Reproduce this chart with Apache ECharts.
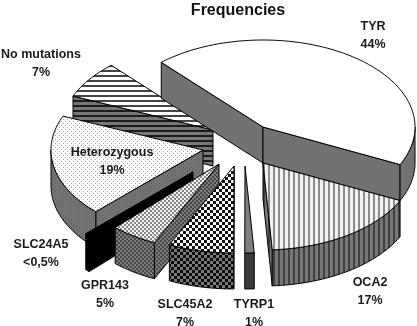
<!DOCTYPE html>
<html>
<head>
<meta charset="utf-8">
<style>html,body{margin:0;padding:0;background:#fff}#c{width:417px;height:326px}</style>
<script src="https://cdn.jsdelivr.net/npm/echarts@6/dist/echarts.min.js"></script>
</head>
<body>
<div id="c"></div>
<script>
const categories = ['TYR','OCA2','TYRP1','SLC45A2','GPR143','SLC24A5','Heterozygous','No mutations'];
const values = [44,17,1,7,5,0.5,19,7];
const percentLabels = ['44%','17%','1%','7%','5%','<0,5%','19%','7%'];

// layout and style, separate from the data
const START_ANGLE = 132, RX = 152, RY = 87, DEPTH = 36;
const apexX = [263,263,245,234,219,193,203,213];
const apexY = [127,163,166,166,164,172,150,130];
const labelX = [373,370,254,185,105,41,112,41];
const labelY = [36,292,314,314,295,254,162,64];
const drawOrder = [7,0,6,5,4,3,1,2];

function tile(w,h,paint){
  const c=document.createElement('canvas');c.width=w;c.height=h;
  const g=c.getContext('2d');paint(g);
  return {image:c,repeat:'repeat'};
}
function rects(bg,fg,w,h,list){
  return tile(w,h,g=>{g.fillStyle=bg;g.fillRect(0,0,w,h);g.fillStyle=fg;list.forEach(r=>g.fillRect(r[0],r[1],r[2],r[3]));});
}
const vstripe=(a,b)=>rects(a,b,5,5,[[3,0,2,5]]);
const hstripe=(a,b)=>rects(a,b,5,5,[[0,0,5,2]]);
const check=(a,b)=>rects(a,b,6,6,[[0,0,3,3],[3,3,3,3]]);
const fine=(a,b)=>rects(a,b,4,4,[[0,0,2,2],[2,2,2,2]]);
const dots=(a,b)=>rects(a,b,4,4,[[1,1,1,1],[3,3,1,1]]);
const topFill=['#ffffff',vstripe('#f2f2f2','#8c8c8c'),'#7f7f7f',check('#ffffff','#111111'),fine('#f2f2f2','#858585'),'#000000',dots('#ffffff','#a0a0a0'),hstripe('#ffffff','#444444')];
const wallFill=['#727272',vstripe('#777777','#404040'),'#3c3c3c',check('#7a7a7a','#0c0c0c'),fine('#7c7c7c','#4a4a4a'),'#000000',dots('#747474','#5a5a5a'),hstripe('#777777','#1c1c1c')];

const total=values.reduce((a,b)=>a+b,0);
let cursor=START_ANGLE;
const spans=values.map(v=>{const a1=cursor;cursor-=v/total*360;return [a1,cursor];});
const rad=d=>d*Math.PI/180;
function pt(i,a,dz){return [apexX[i]+RX*Math.cos(rad(a)),apexY[i]-RY*Math.sin(rad(a))+(dz||0)];}
function samples(a1,a2){
  const list=[a1];
  for(let a=Math.floor(a1);a>a2;a--){if(a<a1)list.push(a);}
  list.push(a2);return list;
}
function poly(points,fill){
  return {type:'polygon',shape:{points:points},style:{fill:fill,stroke:'#000',lineWidth:1,lineJoin:'round'}};
}
function renderItem(params,api){
  const i=drawOrder[params.dataIndex];
  const a1=spans[i][0],a2=spans[i][1];
  const apex=[apexX[i],apexY[i]];
  const apexB=[apex[0],apex[1]+DEPTH];
  const kids=[];
  if(Math.cos(rad(a1))<0){
    const p=pt(i,a1);kids.push(poly([apex,p,[p[0],p[1]+DEPTH],apexB],wallFill[i]));
  }
  if(Math.cos(rad(a2))>0){
    const p=pt(i,a2);kids.push(poly([apex,p,[p[0],p[1]+DEPTH],apexB],wallFill[i]));
  }
  const arc=samples(a1,a2);
  const vis=arc.filter(a=>Math.sin(rad(a))<=1e-6);
  if(vis.length>1){
    const up=vis.map(a=>pt(i,a));
    const dn=vis.slice().reverse().map(a=>pt(i,a,DEPTH));
    kids.push(poly(up.concat(dn),wallFill[i]));
  }
  kids.push(poly([apex].concat(arc.map(a=>pt(i,a))),topFill[i]));
  return {type:'group',children:kids};
}
const labels=categories.map((n,i)=>({
  type:'text',x:labelX[i],y:labelY[i],z:100,
  style:{text:n+'\n'+percentLabels[i],font:'bold 12.5px "Liberation Sans"',lineHeight:18,fill:'#1a1a1a',align:'center',verticalAlign:'middle'}
}));
const chart=echarts.init(document.getElementById('c'),null,{renderer:'canvas',width:417,height:326});
chart.setOption({
  animation:false,
  backgroundColor:'#fff',
  title:{text:'Frequencies',left:233,top:-2,textAlign:'center',textStyle:{fontFamily:'Liberation Sans',fontWeight:'bold',fontSize:16,color:'#111'}},
  series:[{type:'custom',coordinateSystem:'none',silent:true,renderItem:renderItem,
    data:drawOrder.map(i=>({name:categories[i],value:values[i]}))}],
  graphic:{elements:labels}
});
</script>
</body>
</html>
